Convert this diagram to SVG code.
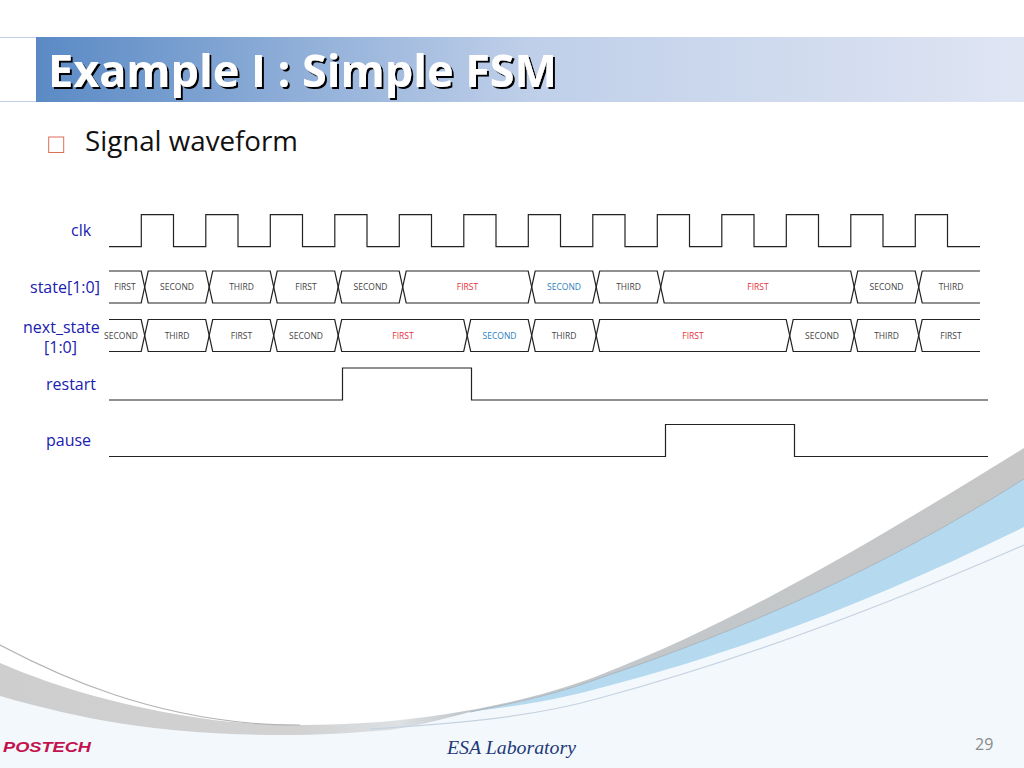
<svg xmlns="http://www.w3.org/2000/svg" width="1024" height="768" viewBox="0 0 1024 768">
<style>
.wave{fill:none;stroke:#222;stroke-width:1.2}
.lbl{font-family:"Open Sans","Noto Sans",sans-serif;font-size:16px;fill:#2020b0}
.s{font-family:"Open Sans","Noto Sans",sans-serif;font-size:8.5px;fill:#444;text-anchor:middle}
.r{fill:#e8303a}
.b{fill:#2a80c0}
</style>
<defs>
<linearGradient id="hdr" x1="0" y1="0" x2="1" y2="0"><stop offset="0" stop-color="#5a8ac5"/><stop offset="0.5" stop-color="#bfcfe9"/><stop offset="1" stop-color="#dfe5f3"/></linearGradient>
<linearGradient id="gr" gradientUnits="userSpaceOnUse" x1="0" y1="0" x2="1024" y2="0"><stop offset="0" stop-color="#cecece"/><stop offset="0.3" stop-color="#d2d2d2"/><stop offset="0.39" stop-color="#dde1e4"/><stop offset="0.45" stop-color="#c2c8cc"/><stop offset="1" stop-color="#c6c6c6"/></linearGradient>
<filter id="sh" x="-5%" y="-20%" width="110%" height="140%"><feDropShadow dx="2" dy="2" stdDeviation="0.6" flood-color="#000" flood-opacity="1"/></filter>
</defs>
<rect width="1024" height="768" fill="#fff"/>
<path id="bg-light" d="M0,696C90,722 170,735 280,735C350,735 420,720 490,706C530,702 560,690 600,675C741,621 880,537 1024,448V768H0Z" fill="#f3f8fc"/>
<path id="band-blue" d="M473,711C520,703 560,693 600,678C740,631 880,570 1024,479V527C880,598 740,652 600,688C560,699 520,706 473,711Z" fill="#b5d9ef"/>
<path id="band-gray" d="M0,663C60,689 130,708 200,718C250,726 310,727 380,722C450,716 530,702 600,675C741,621 880,537 1024,448V479C880,570 740,631 600,678C560,693 520,702 470,712C440,720 410,727 390,730C350,733 320,735 280,735C170,735 90,722 0,696Z" fill="url(#gr)"/>
<path id="edge-gray-blue" d="M470,712C520,702 560,693 600,678C740,631 880,570 1024,479" fill="none" stroke="#a9b6bf" stroke-width="1"/>
<path id="line-gray" d="M0,645C70,682 150,714 250,723C270,725 285,725 300,725" fill="none" stroke="#b4b4b4" stroke-width="1.2"/>
<path id="line-blue" d="M370,729C450,724 530,718 600,698C741,660 880,608 1024,545" fill="none" stroke="#c5d3e0" stroke-width="1.2"/>

<g id="header">
<rect x="36" y="37" width="988" height="65" fill="url(#hdr)"/>
<path d="M0,37.5H36M0,101.5H36" stroke="#c3cde5" stroke-width="1.2"/>
<text x="48" y="87" font-family="'Open Sans','Noto Sans',sans-serif" font-weight="700" font-size="44" fill="#fff" filter="url(#sh)" textLength="509" lengthAdjust="spacingAndGlyphs">Example I : Simple FSM</text>
</g>
<g id="bullet">
<rect x="48.7" y="137" width="15" height="15.5" fill="#fff" stroke="#dc6d58" stroke-width="1"/>
<text x="85" y="151" font-family="'Open Sans','Noto Sans',sans-serif" font-size="28" fill="#111" textLength="213" lengthAdjust="spacingAndGlyphs">Signal waveform</text>
</g>

<g id="sig-clk">
<text class="lbl" x="71" y="236">clk</text>
<path class="wave" d="M109,246.7H141.3V214.7H173.5V246.7H205.8V214.7H238V246.7H270.3V214.7H302.5V246.7H334.8V214.7H367V246.7H399.3V214.7H431.5V246.7H463.8V214.7H496V246.7H528.3V214.7H560.5V246.7H592.8V214.7H625V246.7H657.3V214.7H689.5V246.7H721.8V214.7H754V246.7H786.3V214.7H818.5V246.7H850.8V214.7H883V246.7H915.3V214.7H947.5V246.7H980"/>
</g>

<g id="sig-state">
<text class="lbl" x="30" y="293">state[1:0]</text>
<path class="wave" d="M109,271H141.2L148.2,303H205.7L212.7,271H270.2L277.2,303H334.7L341.7,271H399.2L406.2,303H528.2L535.2,271H592.7L599.7,303H657.2L664.2,271H850.7L857.7,303H915.2L922.2,271H980"/>
<path class="wave" d="M109,303H141.2L148.2,271H205.7L212.7,303H270.2L277.2,271H334.7L341.7,303H399.2L406.2,271H528.2L535.2,303H592.7L599.7,271H657.2L664.2,303H850.7L857.7,271H915.2L922.2,303H980"/>
<text class="s" x="125" y="290">FIRST</text>
<text class="s" x="177" y="290">SECOND</text>
<text class="s" x="241.5" y="290">THIRD</text>
<text class="s" x="306" y="290">FIRST</text>
<text class="s" x="370.5" y="290">SECOND</text>
<text class="s r" x="467.5" y="290">FIRST</text>
<text class="s b" x="564" y="290">SECOND</text>
<text class="s" x="628.5" y="290">THIRD</text>
<text class="s r" x="758" y="290">FIRST</text>
<text class="s" x="886.5" y="290">SECOND</text>
<text class="s" x="951" y="290">THIRD</text>
</g>

<g id="sig-next-state">
<text class="lbl" x="23" y="333">next_state</text>
<text class="lbl" x="44" y="353">[1:0]</text>
<path class="wave" d="M109,319.5H141.2L148.2,351.5H205.7L212.7,319.5H270.2L277.2,351.5H334.7L341.7,319.5H463.7L470.7,351.5H528.2L535.2,319.5H592.7L599.7,351.5H786.2L793.2,319.5H850.7L857.7,351.5H915.2L922.2,319.5H980"/>
<path class="wave" d="M109,351.5H141.2L148.2,319.5H205.7L212.7,351.5H270.2L277.2,319.5H334.7L341.7,351.5H463.7L470.7,319.5H528.2L535.2,351.5H592.7L599.7,319.5H786.2L793.2,351.5H850.7L857.7,319.5H915.2L922.2,351.5H980"/>
<text class="s" x="121" y="339">SECOND</text>
<text class="s" x="177" y="339">THIRD</text>
<text class="s" x="241.5" y="339">FIRST</text>
<text class="s" x="306" y="339">SECOND</text>
<text class="s r" x="403" y="339">FIRST</text>
<text class="s b" x="499.5" y="339">SECOND</text>
<text class="s" x="564" y="339">THIRD</text>
<text class="s r" x="693" y="339">FIRST</text>
<text class="s" x="822" y="339">SECOND</text>
<text class="s" x="886.5" y="339">THIRD</text>
<text class="s" x="951" y="339">FIRST</text>
</g>

<g id="sig-restart">
<text class="lbl" x="46" y="390">restart</text>
<path class="wave" d="M109,400H342.5V368H471.5V400H988"/>
</g>
<g id="sig-pause">
<text class="lbl" x="46" y="446">pause</text>
<path class="wave" d="M109,456.5H665.5V424.5H794.5V456.5H988"/>
</g>

<g id="footer">
<text x="3" y="752" font-family="'Liberation Sans',sans-serif" font-weight="700" font-style="italic" font-size="14" fill="#c4124f" textLength="88" lengthAdjust="spacingAndGlyphs">POSTECH</text>
<text x="447" y="754" font-family="'Liberation Serif',serif" font-style="italic" font-size="19" fill="#1e3a78" textLength="129" lengthAdjust="spacingAndGlyphs">ESA Laboratory</text>
<text x="975" y="750" font-family="'Open Sans','Noto Sans',sans-serif" font-size="16" fill="#8a8a8a">29</text>
</g>
</svg>
